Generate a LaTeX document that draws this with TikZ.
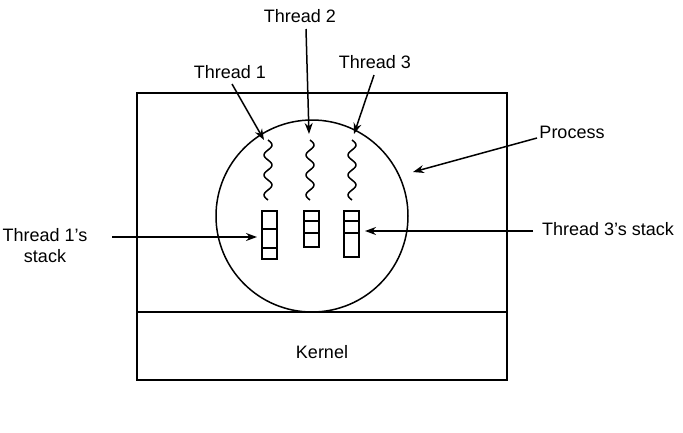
\documentclass[tikz,border=0pt]{standalone}
\usepackage{fontspec}
\usetikzlibrary{arrows.meta}
\setmainfont{Liberation Sans}
\begin{document}
\begin{tikzpicture}[x=1pt,y=-1pt,
  lbl/.style={font=\fontsize{18}{21}\selectfont, inner sep=0pt},
  box/.style={draw, line width=1.5pt},
  arr/.style={-{Stealth[length=11pt,width=8pt]}, line width=1.5pt},
  wig/.style={line width=1.5pt}]
\useasboundingbox (0,0) rectangle (683,432);
\draw[box] (137,93) rectangle (507,380);
\draw[box] (137,312) -- (507,312);
\node[box, circle, minimum size=192pt, inner sep=0pt] (proc) at (312,216) {};
% squiggles
\foreach \xx in {268,310,352}{
  \draw[wig] plot[domain=0:60, samples=60, smooth] ({\xx+4*sin(\x*18)},{140+\x});
}
\coordinate (w1) at (264,140); \coordinate (w2) at (309,134); \coordinate (w3) at (354,134);
% stacks
\draw[box] (262,211) rectangle (277,259);
\draw[box] (262,229) -- (277,229); \draw[box] (262,248) -- (277,248);
\coordinate (s1) at (257,237);
\draw[box] (304,211) rectangle (319,247);
\draw[box] (304,221) -- (319,221); \draw[box] (304,233) -- (319,233);
\draw[box] (344,211) rectangle (359,257);
\draw[box] (344,221) -- (359,221); \draw[box] (344,233) -- (359,233);
\coordinate (s3) at (365,231);
% labels
\node[lbl] (t1) at (230,72) {Thread 1};
\node[lbl] (t2) at (300,16) {Thread 2};
\node[lbl] (t3) at (375,62) {Thread 3};
\node[lbl] (pl) at (572,132) {Process};
\node[lbl] (t3s) at (608,229) {Thread 3's stack};
\node[lbl, align=center] (t1s) at (45,246) {Thread 1's\\stack};
\node[lbl] (k) at (322,352) {Kernel};
\coordinate (pp) at (413,172);
% arrows
\draw[arr] (232,84) -- (w1);
\draw[arr] (306,29) -- (w2);
\draw[arr] (374,75) -- (w3);
\draw[arr] (537,138) -- (pp);
\draw[arr] (533,231) -- (s3);
\draw[arr] (112,237) -- (s1);
\end{tikzpicture}
\end{document}
